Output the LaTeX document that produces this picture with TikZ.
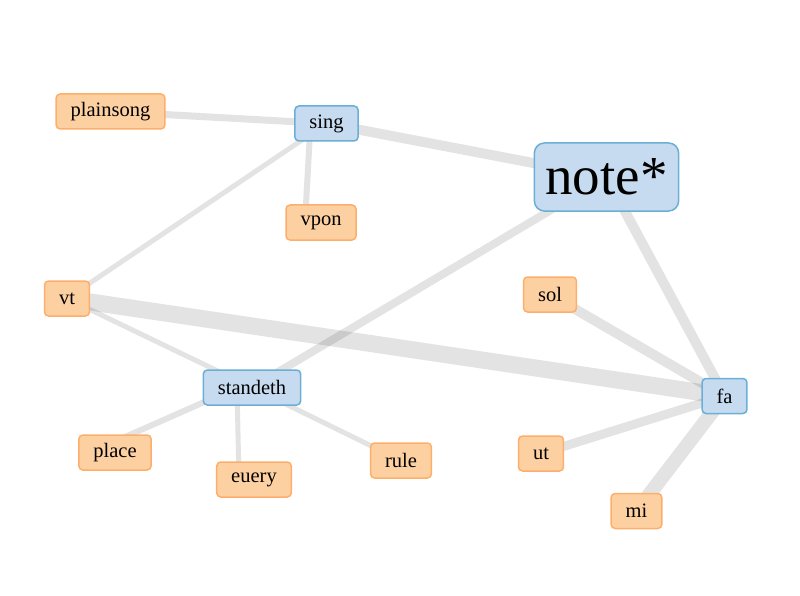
\documentclass[tikz,border=0pt]{standalone}
\usepackage{fontspec}
\setmainfont{Liberation Serif}
\usetikzlibrary{backgrounds}
\definecolor{wordfill}{HTML}{FDD0A2}
\definecolor{wordline}{HTML}{FDAE6B}
\definecolor{keyfill}{HTML}{C6DBEF}
\definecolor{keyline}{HTML}{6BAED6}
\begin{document}
\begin{tikzpicture}[x=1pt, y=-1pt,
        word/.style={draw=wordline, fill=wordfill, line width=1.5pt, rounded corners=4pt,
            minimum height=35pt, inner xsep=14.5pt, font=\fontsize{20.5}{23}\selectfont},
        key/.style={word, draw=keyline, fill=keyfill},
        link/.style={draw=black, draw opacity=0.11, line cap=butt}
    ]
        \useasboundingbox (0,0) rectangle (800,596);

        \node[word] (plainsong) at (110.5, 111.5) {plainsong};
        \node[key]  (sing)      at (326.5, 123.5) {sing};
        \node[key, rounded corners=10pt, minimum height=68pt, inner xsep=11pt,
              font=\fontsize{55}{60}\selectfont] (note) at (606.5, 177) {note*};
        \node[word] (vpon)      at (321, 222.5) {vpon};
        \node[word] (vt)        at (67, 298.5) {vt};
        \node[word] (sol)       at (550, 294.5) {sol};
        \node[key]  (standeth)  at (252, 387.5) {standeth};
        \node[key]  (fa)        at (724.5, 396) {fa};
        \node[word] (place)     at (115, 452.5) {place};
        \node[word] (euery)     at (254, 479.5) {euery};
        \node[word] (rule)      at (401, 460.5) {rule};
        \node[word] (ut)        at (541, 453.5) {ut};
        \node[word] (mi)        at (636.5, 511) {mi};

        \begin{scope}[on background layer]
            \draw[link, line width=7pt]  (plainsong.center) -- (sing.center);
            \draw[link, line width=10pt] (sing.center) -- (note.center);
            \draw[link, line width=6pt]  ([xshift=-16pt]sing.center) -- ([xshift=-16pt]vpon.center);
            \draw[link, line width=5pt]  (sing.center) -- (vt.center);
            \draw[link, line width=8pt]  (note.center) -- (standeth.center);
            \draw[link, line width=10pt] (note.center) -- (fa.center);
            \draw[link, line width=17pt] (vt.center) -- (fa.center);
            \draw[link, line width=5pt]  (vt.center) -- (standeth.center);
            \draw[link, line width=10pt] (sol.center) -- (fa.center);
            \draw[link, line width=9pt]  (ut.center) -- (fa.center);
            \draw[link, line width=14pt] (mi.center) -- (fa.center);
            \draw[link, line width=6pt]  ([xshift=-15pt]standeth.center) -- ([xshift=-25pt]place.center);
            \draw[link, line width=5pt]  ([xshift=-15pt]standeth.center) -- ([xshift=-15pt]euery.center);
            \draw[link, line width=5pt]  (standeth.center) -- (rule.center);
        \end{scope}
    \end{tikzpicture}
\end{document}
